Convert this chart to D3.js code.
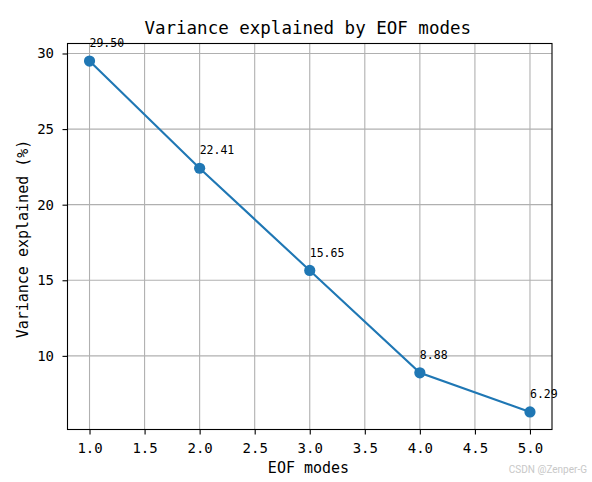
<!DOCTYPE html>
<html>
<head>
<meta charset="utf-8">
<script src="https://cdn.jsdelivr.net/npm/d3@7"></script>
<style>
  body { margin: 0; background: #fff; }
  svg text { font-family: "DejaVu Sans Mono", "Liberation Mono", monospace; fill: #000; }
  .grid line { stroke: #b0b0b0; stroke-width: 1.1; }
</style>
</head>
<body>
<div id="chart"></div>
<script>
// data
const modes = [1, 2, 3, 4, 5];
const variance = [29.50, 22.41, 15.65, 8.88, 6.29];
const xTicks = [1.0, 1.5, 2.0, 2.5, 3.0, 3.5, 4.0, 4.5, 5.0];
const yTicks = [10, 15, 20, 25, 30];

const width = 592;
const height = 482;
const plot = { left: 67.5, right: 552, top: 43.5, bottom: 429.5 };

const points = modes.map((m, i) => ({ mode: m, value: variance[i] }));

// matplotlib style 5% margins
const xPad = (d3.max(modes) - d3.min(modes)) * 0.05;
const yPad = (d3.max(variance) - d3.min(variance)) * 0.05;

const xScale = d3.scaleLinear()
  .domain([d3.min(modes) - xPad, d3.max(modes) + xPad])
  .range([plot.left, plot.right]);

const yScale = d3.scaleLinear()
  .domain([d3.min(variance) - yPad, d3.max(variance) + yPad])
  .range([plot.bottom, plot.top]);

const svg = d3.select('#chart')
  .append('svg')
  .attr('width', width)
  .attr('height', height);

// grid
svg.append('g')
  .attr('class', 'grid')
  .selectAll('line.vx')
  .data(xTicks)
  .join('line')
  .attr('x1', d => xScale(d)).attr('x2', d => xScale(d))
  .attr('y1', plot.top).attr('y2', plot.bottom);

svg.append('g')
  .attr('class', 'grid')
  .selectAll('line.hy')
  .data(yTicks)
  .join('line')
  .attr('x1', plot.left).attr('x2', plot.right)
  .attr('y1', d => yScale(d)).attr('y2', d => yScale(d));

// axes
const xAxis = d3.axisBottom(xScale)
  .tickValues(xTicks)
  .tickFormat(d3.format('.1f'))
  .tickSize(5)
  .tickSizeOuter(0)
  .tickPadding(8.5);

const yAxis = d3.axisLeft(yScale)
  .tickValues(yTicks)
  .tickSize(5)
  .tickSizeOuter(0)
  .tickPadding(8.5);

svg.append('g')
  .attr('transform', `translate(0, ${plot.bottom})`)
  .call(xAxis)
  .call(g => g.select('.domain').remove())
  .call(g => g.selectAll('.tick line').attr('stroke', '#000').attr('stroke-width', 1.1))
  .call(g => g.selectAll('.tick text')
    .style('font-size', '14px')
    .style('font-family', '"DejaVu Sans Mono", monospace'));

svg.append('g')
  .attr('transform', `translate(${plot.left}, 0)`)
  .call(yAxis)
  .call(g => g.select('.domain').remove())
  .call(g => g.selectAll('.tick line').attr('stroke', '#000').attr('stroke-width', 1.1))
  .call(g => g.selectAll('.tick text')
    .style('font-size', '14px')
    .style('font-family', '"DejaVu Sans Mono", monospace'));

// frame
svg.append('rect')
  .attr('x', plot.left)
  .attr('y', plot.top)
  .attr('width', plot.right - plot.left)
  .attr('height', plot.bottom - plot.top)
  .attr('fill', 'none')
  .attr('stroke', '#000')
  .attr('stroke-width', 1.1);

// line + markers
const line = d3.line()
  .x(d => xScale(d.mode))
  .y(d => yScale(d.value));

svg.append('path')
  .datum(points)
  .attr('d', line)
  .attr('fill', 'none')
  .attr('stroke', '#1f77b4')
  .attr('stroke-width', 2.1);

svg.append('g')
  .selectAll('circle')
  .data(points)
  .join('circle')
  .attr('cx', d => xScale(d.mode))
  .attr('cy', d => yScale(d.value))
  .attr('r', 5.6)
  .attr('fill', '#1f77b4');

// value labels
svg.append('g')
  .selectAll('text')
  .data(points)
  .join('text')
  .attr('x', d => xScale(d.mode))
  .attr('y', d => yScale(d.value) - 13.9)
  .style('font-size', '11.5px')
  .text(d => d.value.toFixed(2));

// title and axis labels
svg.append('text')
  .attr('x', (plot.left + plot.right) / 2 - 2)
  .attr('y', 33.5)
  .attr('text-anchor', 'middle')
  .style('font-size', '17.5px')
  .text('Variance explained by EOF modes');

svg.append('text')
  .attr('x', 308.5)
  .attr('y', 473)
  .attr('text-anchor', 'middle')
  .style('font-size', '15px')
  .text('EOF modes');

svg.append('text')
  .attr('transform', 'translate(28, 239) rotate(-90)')
  .attr('text-anchor', 'middle')
  .style('font-size', '15px')
  .text('Variance explained (%)');

// watermark
svg.append('text')
  .attr('x', 587)
  .attr('y', 473)
  .attr('text-anchor', 'end')
  .style('font-family', 'Roboto, "Noto Sans", sans-serif')
  .style('font-size', '10px')
  .style('fill', '#c8c8c8')
  .text('CSDN @Zenper-G');
</script>
</body>
</html>
